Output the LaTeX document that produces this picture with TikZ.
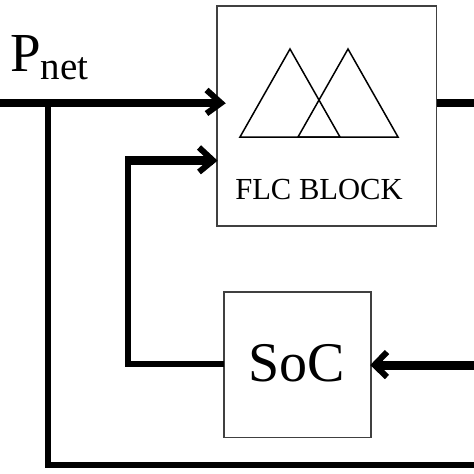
\documentclass[tikz,border=0pt]{standalone}
\usepackage{fontspec}
\setmainfont{Liberation Serif}
\usetikzlibrary{calc}
\tikzset{
  blockbox/.style={draw=black!75,line width=1.3pt,minimum width=#1,inner sep=0pt,outer sep=0pt,fill=white},
  bus/.style={line width=8.5pt,black},
  thinbus/.style={line width=6pt,black},
  chev/.style={line width=6pt,black,line cap=butt,miter limit=10},
  tri/.style={line width=1.5pt,black,line join=miter},
  lbl/.style={inner sep=0pt,outer sep=0pt,anchor=base}
}
\begin{document}
\begin{tikzpicture}[x=1pt,y=-1pt]
\useasboundingbox (0,0) rectangle (474,474);
% blocks
\node[blockbox=219.5pt,minimum height=220pt] (flc) at (326.75,116) {};
\node[blockbox=147pt,minimum height=145.5pt] (soc) at (297.5,364.75) {};
% free ends
\coordinate (inL) at (0,103);
\coordinate (outR) at (474,103);
\coordinate (socR) at (474,365);
\coordinate (botR) at (474,465);
\coordinate (tap) at (47.5,103);
\coordinate (c1) at (47.5,465);
\coordinate (c2) at (128,364);
\coordinate (c3) at (128,160);
\coordinate (tipA) at (221,103);
\coordinate (tipB) at (213,160.5);
\coordinate (tipC) at (374.5,365);
% connectors
\draw[bus] (inL) -- (tipA);
\draw[chev] (206.5,90) -- (tipA) -- (206.5,113.5);
\draw[thinbus] (tap) -- (c1) -- (botR);
\draw[bus] (flc.east |- outR) -- (outR);
\draw[thinbus] (soc.west |- c2) -- (c2) -- (c3);
\draw[bus] (125,160.5) -- (tipB);
\draw[chev] (199,147.5) -- (tipB) -- (199,172);
\draw[line width=9pt,black] (socR) -- (tipC);
\draw[chev] (387,352) -- (tipC) -- (387,377);
% membership functions
\draw[tri] (240,137) -- (290,49) -- (340,137) -- cycle;
\draw[tri] (298,137) -- (348,49) -- (398,137) -- cycle;
% labels
\node[lbl,font=\fontsize{30.6}{30.6}\selectfont] (flclbl) at (319,199.5) {FLC BLOCK};
\node[lbl,font=\fontsize{56}{56}\selectfont] (soclbl) at (297,381) {SoC};
\node[lbl,font=\fontsize{55}{55}\selectfont] (plbl) at (26,71.5) {P};
\node[lbl,font=\fontsize{39}{39}\selectfont] (netlbl) at (64.5,79.5) {net};
\end{tikzpicture}
\end{document}
